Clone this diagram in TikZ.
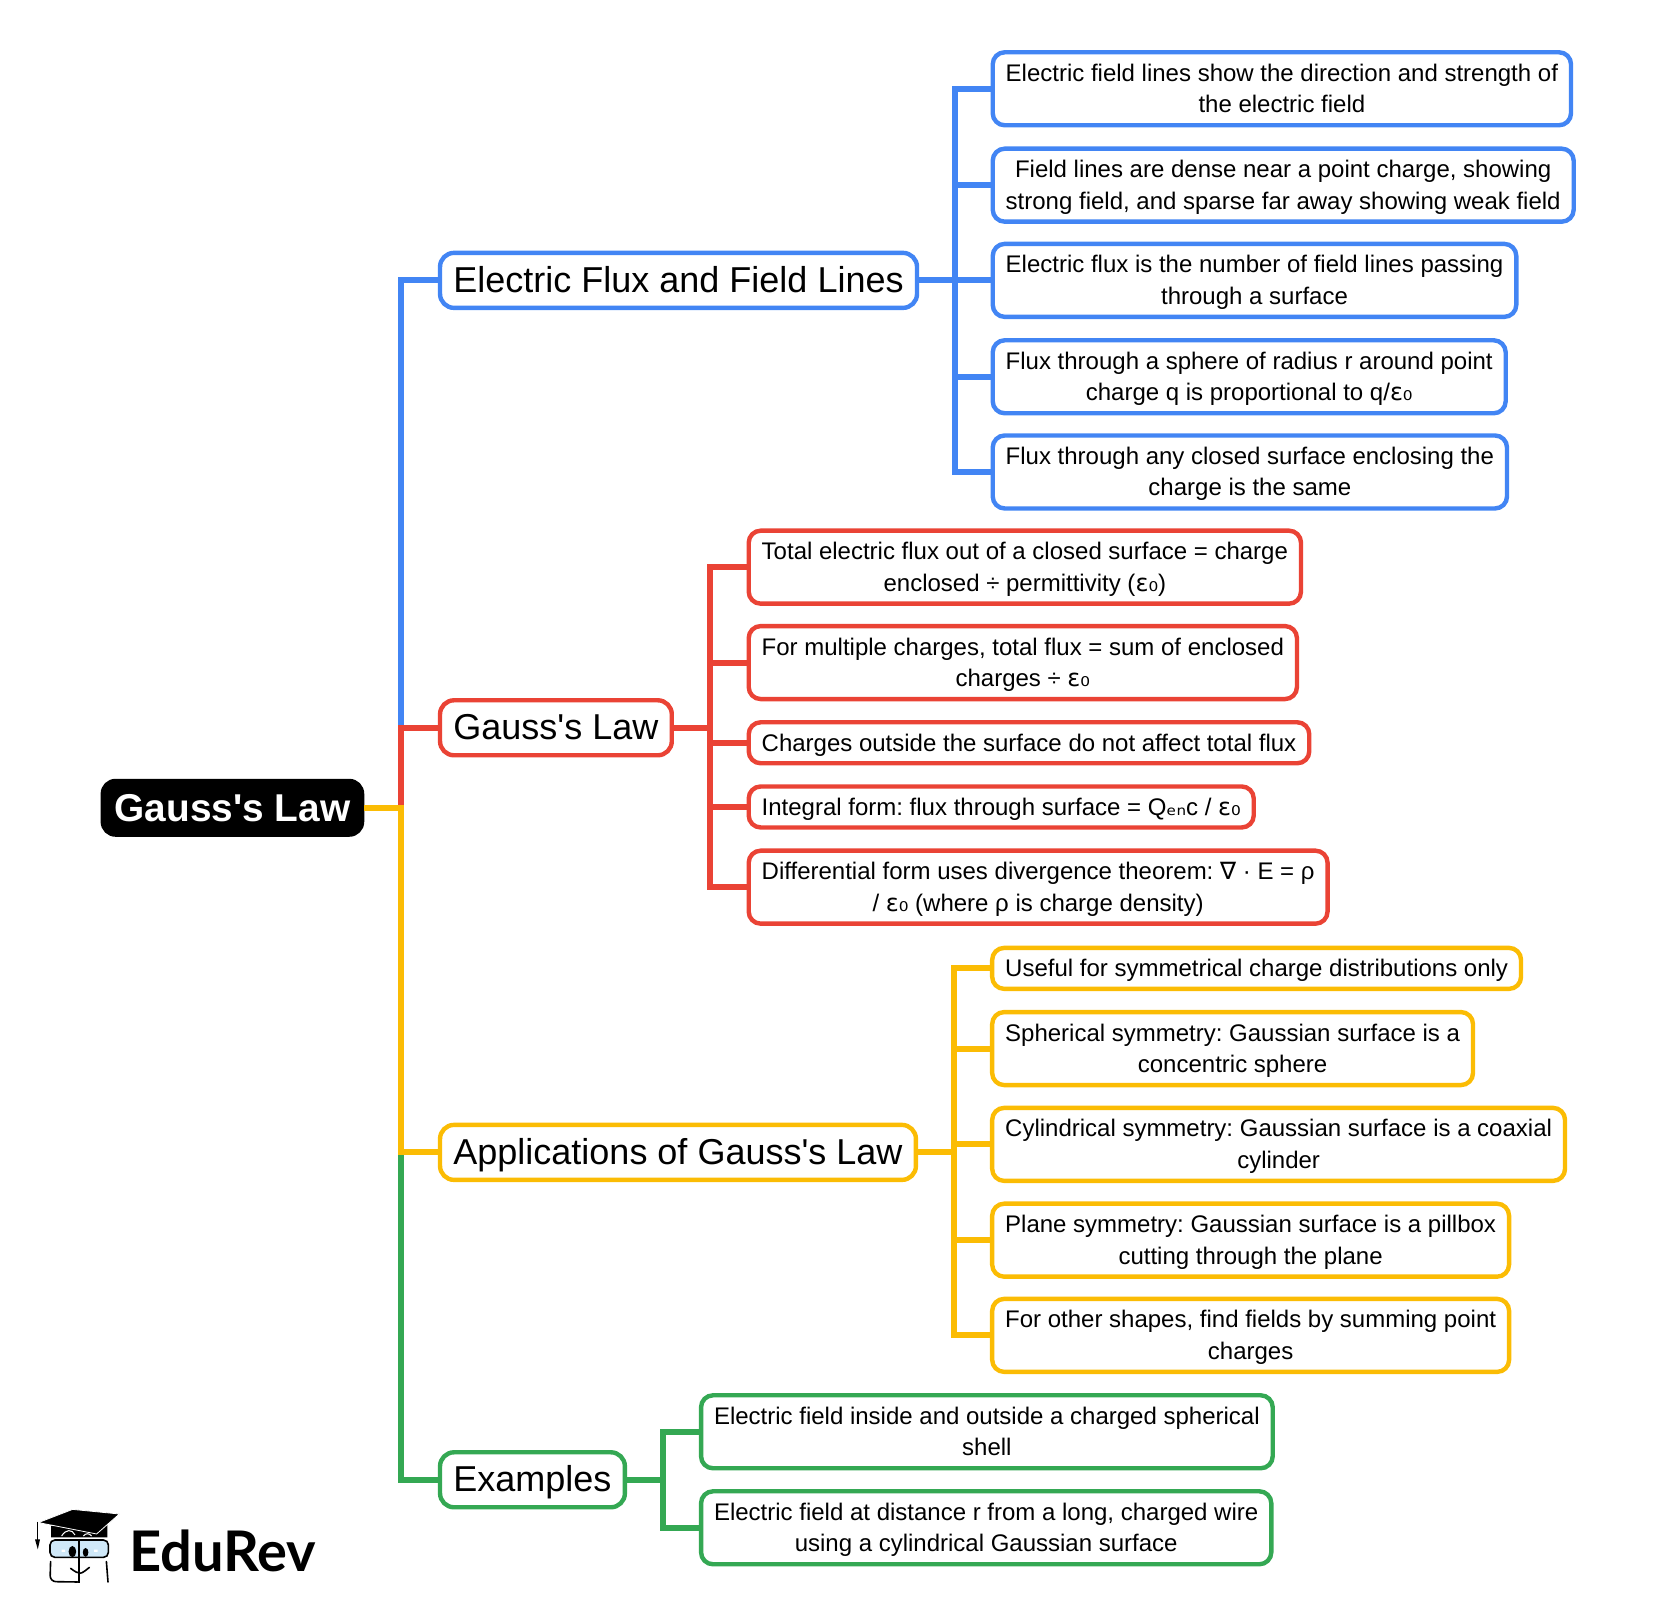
\documentclass[tikz,border=0pt]{standalone}
\usepackage{fontspec}
\newfontfamily\gaussf{Liberation Sans}
\newfontfamily\eduf{Lato}
\newfontfamily\symf{DejaVu Sans}
\usetikzlibrary{trees,shapes}
\definecolor{fluxc}{HTML}{4285F4}
\definecolor{lawc}{HTML}{EA4335}
\definecolor{appc}{HTML}{FBBC04}
\definecolor{exc}{HTML}{34A853}
\definecolor{glassc}{HTML}{CFE8F8}
\newcommand{\eo}{\symf ε₀}
\tikzset{
  main/.style={draw=black,fill=black,text=white,line width=1pt,rounded corners=7pt,font=\gaussf\fontsize{19.4}{23}\selectfont\bfseries\frenchspacing,inner sep=6.5pt,minimum height=28pt,anchor=west},
  branch/.style={draw=#1,line width=2.2pt,rounded corners=7pt,fill=white,font=\gaussf\fontsize{18}{22}\selectfont\frenchspacing,inner xsep=6.7pt,inner ysep=0pt,text height=15pt,text depth=3pt,minimum height=27.5pt,anchor=west},
  leaf/.style={draw=#1,line width=2.2pt,rounded corners=6pt,fill=white,font=\gaussf\fontsize{12}{15.7}\selectfont\frenchspacing,align=center,inner xsep=6.5pt,inner ysep=0pt,minimum height=36.5pt,anchor=west,text height=27.1pt,text depth=3.1pt},
  thin leaf/.style={leaf=#1,minimum height=20.5pt,text height=12.2pt,text depth=3.8pt},
  stem/.style={draw=#1,line width=3pt},
  logoline/.style={line width=.8pt,line cap=round}
}
\begin{document}
\begin{tikzpicture}[x=1pt,y=1pt,grow=right,level distance=0pt,sibling distance=0pt,edge from parent/.style={draw=none}]
\useasboundingbox (0,0) rectangle (838.5,808);
\node [main] (z) at (50.3,404.1) {Gauss's Law}
  child [shift={(102.7,263.7)}] {node [branch=fluxc] (a) {Electric Flux and Field Lines}
    child [shift={(156,95.8)}] {node [leaf=fluxc] (a1) {Electric field lines show the direction and strength of\\the electric field}}
    child [shift={(156,47.6)}] {node [leaf=fluxc] (a2) {Field lines are dense near a point charge, showing\\strong field, and sparse far away showing weak field}}
    child [shift={(156,0)}] {node [leaf=fluxc] (a3) {Electric flux is the number of field lines passing\\through a surface}}
    child [shift={(156,-48.2)}] {node [leaf=fluxc] (a4) {Flux through a sphere of radius r around point\\charge q is proportional to q/{\eo}}}
    child [shift={(156,-95.8)}] {node [leaf=fluxc] (a5) {Flux through any closed surface enclosing the\\charge is the same}}
  }
  child [shift={(102.7,40)}] {node [branch=lawc] (b) {Gauss's Law}
    child [shift={(95.3,80.3)}] {node [leaf=lawc] (b1) {Total electric flux out of a closed surface = charge\\enclosed ÷ permittivity ({\eo})}}
    child [shift={(95.3,32.6)}] {node [leaf=lawc] (b2) {For multiple charges, total flux = sum of enclosed\\charges ÷ {\eo}}}
    child [shift={(95.3,-7.5)}] {node [thin leaf=lawc] (b3) {Charges outside the surface do not affect total flux}}
    child [shift={(95.3,-39.6)}] {node [thin leaf=lawc] (b4) {Integral form: flux through surface = Q{\symf ₑₙ}c / {\eo}}}
    child [shift={(95.3,-79.7)}] {node [leaf=lawc] (b5) {Differential form uses divergence theorem: {\symf ∇} · E = ρ\\/ {\eo} (where ρ is charge density)}}
  }
  child [shift={(102.7,-172.3)}] {node [branch=appc] (c) {Applications of Gauss's Law}
    child [shift={(156,92)}] {node [thin leaf=appc] (c1) {Useful for symmetrical charge distributions only}}
    child [shift={(156,51.9)}] {node [leaf=appc] (c2) {Spherical symmetry: Gaussian surface is a\\concentric sphere}}
    child [shift={(156,4)}] {node [leaf=appc] (c3) {Cylindrical symmetry: Gaussian surface is a coaxial\\cylinder}}
    child [shift={(156,-43.9)}] {node [leaf=appc] (c4) {Plane symmetry: Gaussian surface is a pillbox\\cutting through the plane}}
    child [shift={(156,-91.5)}] {node [leaf=appc] (c5) {For other shapes, find fields by summing point\\charges}}
  }
  child [shift={(102.7,-336)}] {node [branch=exc] (d) {Examples}
    child [shift={(83.2,24)}] {node [leaf=exc] (d1) {Electric field inside and outside a charged spherical\\shell}}
    child [shift={(83.2,-24)}] {node [leaf=exc] (d2) {Electric field at distance r from a long, charged wire\\using a cylindrical Gaussian surface}}
  };
% order matters here, the yellow line stays on top
\draw [stem=fluxc] (z.east) -- ++(18.5,0) |- (a.west);
\draw [stem=lawc] (z.east) -- ++(18.5,0) |- (b.west);
\draw [stem=exc] (z.east) -- ++(18.5,0) |- (d.west);
\draw [stem=appc] (z.east) -- ++(18.5,0) |- (c.west);
\foreach \n in {a1,a2,a3,a4,a5} \draw [stem=fluxc] (a.east) -- ++(18,0) |- (\n.west);
\foreach \n in {b1,b2,b3,b4,b5} \draw [stem=lawc] (b.east) -- ++(18,0) |- (\n.west);
\foreach \n in {c1,c2,c3,c4,c5} \draw [stem=appc] (c.east) -- ++(18,0) |- (\n.west);
\foreach \n in {d1,d2} \draw [stem=exc] (d.east) -- ++(18,0) |- (\n.west);
% logo
\node [anchor=base west,inner sep=0pt,font=\eduf\fontsize{28}{30}\selectfont\bfseries] (e) at (64.3,22.2) {EduRev};
\fill [black] (25.5,45) -- (25.5,39.3) -- (53.7,39.3) -- (53.7,45.5) -- cycle;
\draw [white,line width=.5pt] (30.8,40) .. controls (33,43.5) and (36,43.5) .. (37.5,40.5);
\draw [white,line width=.5pt] (41.7,40) .. controls (43,41.5) and (44.5,41.5) .. (45.8,40);
\fill [black,draw=white,line width=.4pt] (19.2,46.7) -- (36.3,53.3) -- (59.7,51) -- (48.3,41) -- cycle;
\draw [logoline] (18.7,46.7) -- (18.7,38.3);
\fill [black] (17.5,38.3) -- (20,38.3) -- (18.9,33.3) -- cycle;
\draw [logoline,fill=glassc,rounded corners=2.5pt] (25,38) rectangle (54.2,29.3);
\draw [logoline,rounded corners=3pt] (25.3,27.2) -- (25,17.2) -- (38.8,17);
\draw [logoline,rounded corners=2pt] (53.2,27.2) -- (54,17);
\draw [line width=1pt] (39.5,38.3) -- (39.5,16.7);
\fill [black] (36.2,32.2) ellipse (1.9 and 2.8) (42.8,31.8) ellipse (1.4 and 2.2);
\fill [white] (30.8,32) rectangle (32.6,33.2) (47,32) rectangle (48.8,33.2);
\draw [logoline] (35.3,23.8) .. controls (40,20.5) .. (44.7,24.3);
\end{tikzpicture}
\end{document}
